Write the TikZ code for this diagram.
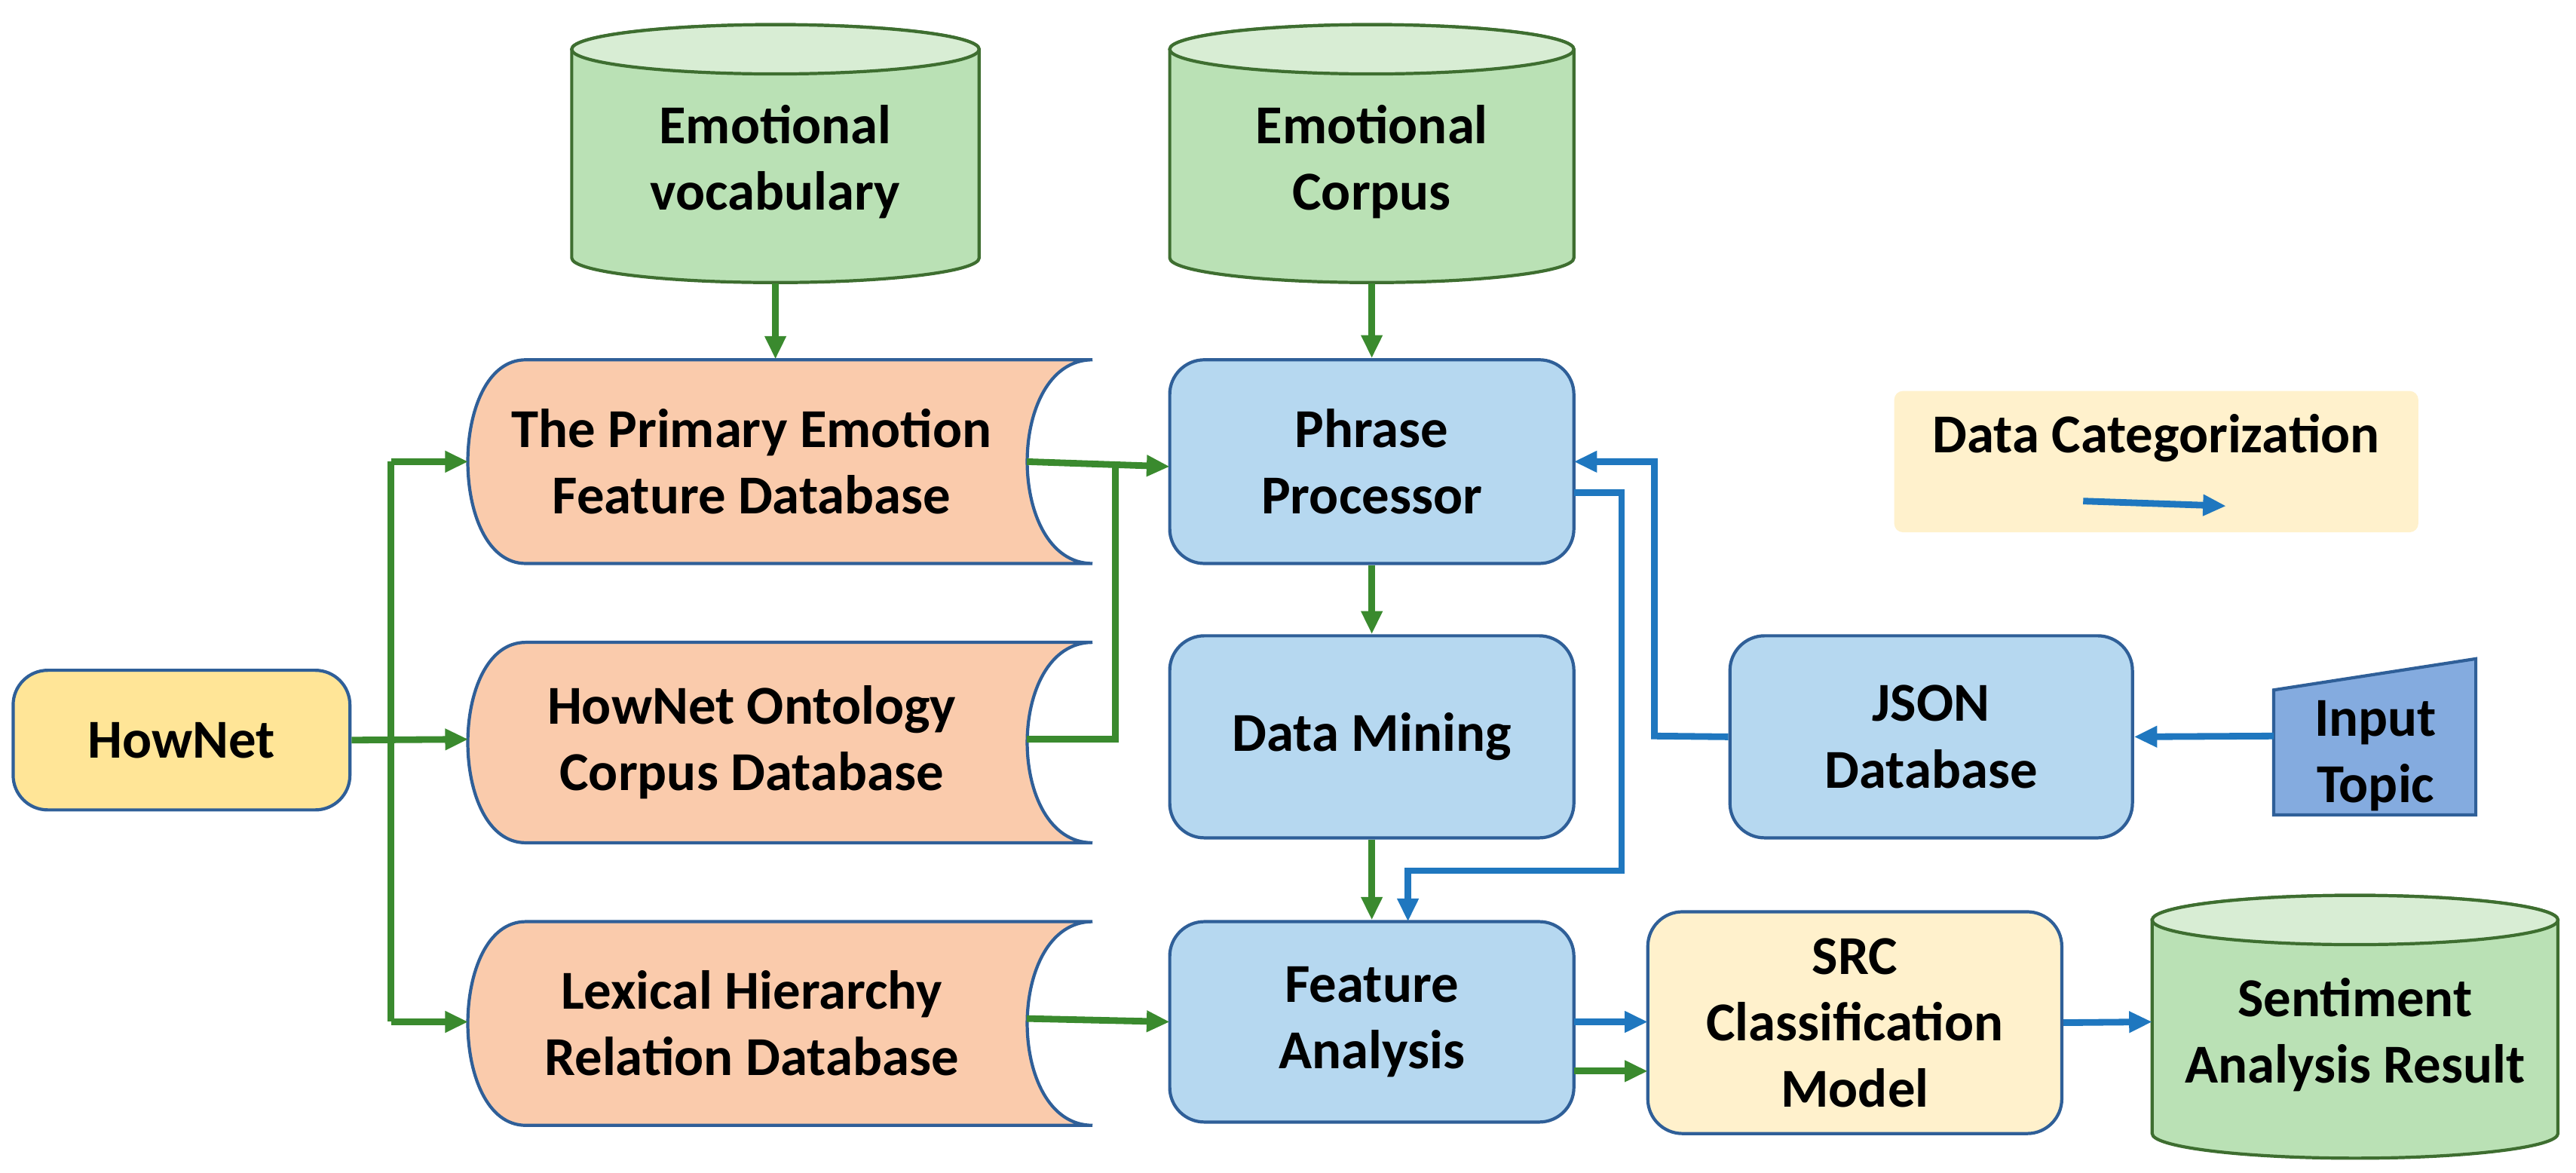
\documentclass[tikz,border=0pt]{standalone}
\usepackage{fontspec}
\setmainfont{Carlito}
\usetikzlibrary{arrows.meta,fit}
\definecolor{bordblue}{HTML}{2F5F98}
\definecolor{gline}{HTML}{3A8A2E}
\definecolor{bline}{HTML}{1F77BF}
\definecolor{cylbody}{HTML}{BAE1B5}
\definecolor{cyltop}{HTML}{D8EDD4}
\definecolor{cylbord}{HTML}{3E6E30}
\definecolor{orangef}{HTML}{FACBAC}
\definecolor{bluef}{HTML}{B6D8F0}
\definecolor{creamf}{HTML}{FFF1CC}
\definecolor{yellowf}{HTML}{FFE597}
\definecolor{inputf}{HTML}{84ABDF}
\tikzset{
  lbl/.style={font=\fontsize{19}{23}\selectfont\bfseries,align=center},
  box/.style={draw=bordblue,line width=1.1pt,rounded corners=12pt,lbl},
  proc/.style={box,fill=bluef},
  garr/.style={draw=gline,line width=2.3pt,-{Triangle[length=8pt,width=7pt]}},
  barr/.style={draw=bline,line width=2.3pt,-{Triangle[length=8pt,width=7pt]}},
}
% stored-data shape: name, x1, y1, x2, y2 (y down), text
\newcommand{\storeddata}[6]{%
  \draw[draw=bordblue,line width=1.1pt,fill=orangef]
    (#2+35,-#3) -- (#4,-#3) .. controls (#4-53,-#3) and (#4-53,-#5) .. (#4,-#5)
    -- (#2+35,-#5) .. controls (#2-12,-#5) and (#2-12,-#3) .. (#2+35,-#3) -- cycle;
  \node[lbl] at ({(#2+#4-35)/2},{-(#3+#5)/2}) {#6};
  \node[inner sep=0pt,fit={(#2,-#3)(#4-40,-#5)}] (#1) {};}
% cylinder: name, x1, y1, x2, y2, text
\newcommand{\dbcyl}[6]{%
  \draw[draw=cylbord,line width=1.1pt,fill=cylbody]
    (#2,-#3-15) -- (#2,-#5+15) arc[start angle=180,end angle=360,x radius={(#4-#2)/2},y radius=15]
    -- (#4,-#3-15) arc[start angle=0,end angle=180,x radius={(#4-#2)/2},y radius=15] -- cycle;
  \draw[draw=cylbord,line width=1.1pt,fill=cyltop]
    ({(#2+#4)/2},-#3-15) ellipse[x radius={(#4-#2)/2},y radius=15];
  \node[lbl] at ({(#2+#4)/2},{-(#3+#5)/2-5}) {#6};
  \node[inner sep=0pt,fit={(#2,-#3)(#4,-#5)}] (#1) {};}
\begin{document}
\begin{tikzpicture}[x=0.02cm,y=0.02cm]
\useasboundingbox (0,0) rectangle (1568,-714);

\dbcyl{voc}{348}{15}{596}{172}{Emotional\\vocabulary}
\dbcyl{corp}{712}{15}{958}{172}{Emotional\\Corpus}
\dbcyl{res}{1310}{545}{1557}{705}{Sentiment\\Analysis Result}

\storeddata{pef}{285}{219}{665}{343}{The Primary Emotion\\Feature Database}
\storeddata{onto}{285}{391}{665}{513}{HowNet Ontology\\Corpus Database}
\storeddata{lex}{285}{561}{665}{685}{Lexical Hierarchy\\Relation Database}

\node[box,fill=yellowf,minimum width=205*0.02cm,minimum height=85*0.02cm] (hn) at (110.5,-450.5) {HowNet};
\node[proc,minimum width=246*0.02cm,minimum height=124*0.02cm] (pp) at (835,-281) {Phrase\\Processor};
\node[proc,minimum width=246*0.02cm,minimum height=123*0.02cm] (dm) at (835,-448.5) {Data Mining};
\node[proc,minimum width=246*0.02cm,minimum height=122*0.02cm] (fa) at (835,-622) {Feature\\Analysis};
\node[proc,minimum width=245*0.02cm,minimum height=123*0.02cm] (js) at (1175.5,-448.5) {JSON\\Database};
\node[box,fill=creamf,minimum width=252*0.02cm,minimum height=135*0.02cm] (src) at (1129,-622.5) {SRC\\Classification\\Model};
\node[fill=creamf,rounded corners=3pt,minimum width=319*0.02cm,minimum height=86*0.02cm] (cat) at (1312.5,-281) {};
\node[lbl,anchor=north] at (1312.5,-246) {Data Categorization};
\coordinate (k1) at (1268,-305);
\coordinate (k2) at (1355,-308);
\draw[barr] (k1) -- (k2);

% manual input
\draw[draw=bordblue,line width=1.1pt,fill=inputf] (1384,-420) -- (1507,-401) -- (1507,-496) -- (1384,-496) -- cycle;
\node[lbl] at (1446,-460) {Input\\Topic};
\node[inner sep=0pt,fit={(1384,-401)(1507,-496)}] (in) {};

% green connectors
\draw[garr] (voc.south) -- (voc.south |- pef.north);
\draw[garr] (corp.south) -- (pp.north);
\draw[garr] (hn.east) -- (285,-450);
\draw[gline,line width=2.3pt] (238,-281) -- (238,-622);
\draw[garr] (238,-281) -- (285,-281);
\draw[garr] (238,-622) -- (285,-622);
\draw[garr] (625,-281) -- (712,-284);
\draw[gline,line width=2.3pt] (625,-450) -- (679,-450) -- (679,-283);
\draw[garr] (625,-620) -- (712,-622);
\draw[garr] (pp.south) -- (dm.north);
\draw[garr] (dm.south) -- (fa.north);
\draw[garr] (958,-652) -- (1003,-652);

% blue connectors
\draw[barr] (js.west) -- (1007,-448) -- (1007,-281) -- (958,-281);
\draw[barr] (958,-300) -- (987,-300) -- (987,-530) -- (857,-530) -- (857,-561);
\draw[barr] (1384,-448) -- (js.east);
\draw[barr] (958,-622) -- (1003,-622);
\draw[barr] (src.east) -- (1310,-622);
\end{tikzpicture}
\end{document}
